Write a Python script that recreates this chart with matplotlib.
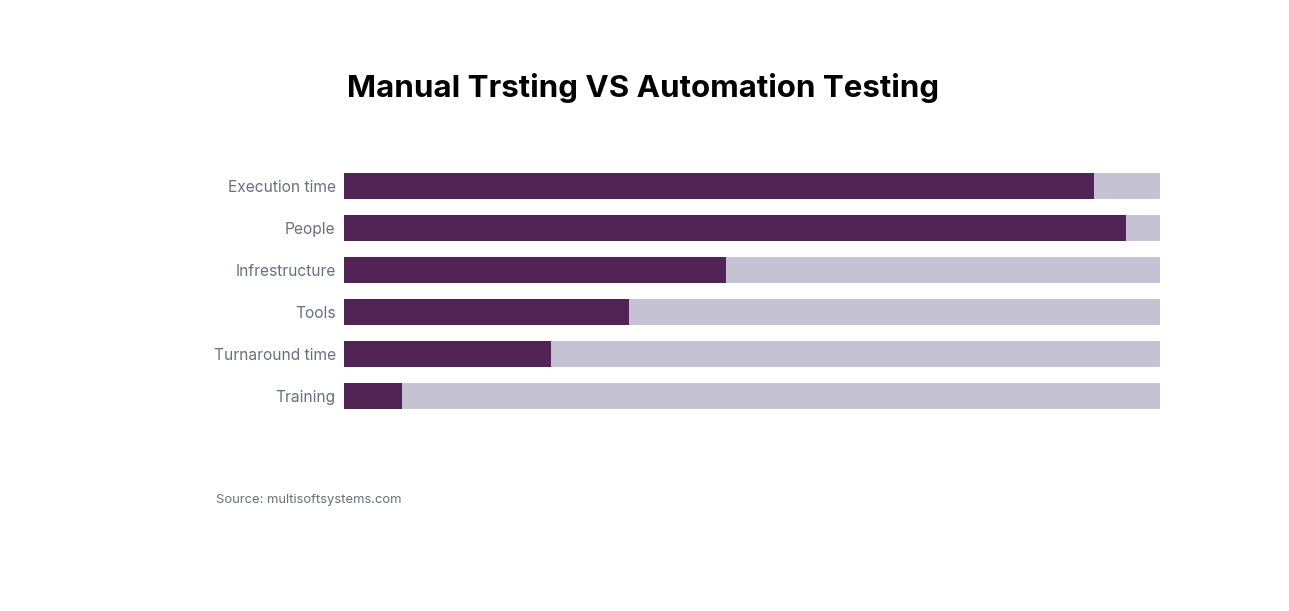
import matplotlib.pyplot as plt

categories = ["Execution time", "People", "Infrestructure", "Tools", "Turnaround time", "Training"]
values = [91.9, 95.8, 46.8, 34.9, 25.4, 7.1]
total = 100

W, H = 1289, 611
fig = plt.figure(figsize=(W / 100, H / 100), dpi=100)
ax = fig.add_axes([344 / W, 1 - 417 / H, (1160 - 344) / W, (417 - 165) / H])

y = list(range(len(categories)))
ax.barh(y, [total] * len(categories), height=0.62, color="#c5c3d3")
ax.barh(y, values, height=0.62, color="#522455")
ax.set_xlim(0, total)
ax.set_ylim(len(categories) - 0.5, -0.5)
ax.set_yticks(y)
ax.set_yticklabels(categories, fontfamily="Inter", fontsize=11.2, color="#6b6e80")
ax.tick_params(axis="y", length=0, pad=6)
ax.set_xticks([])
for s in ax.spines.values():
    s.set_visible(False)

fig.text(347 / W, 1 - 88 / H, "Manual Trsting VS Automation Testing", fontfamily="Inter",
         fontweight="bold", fontsize=22.5, va="center", ha="left", color="#000000")
fig.text(216 / W, 1 - 500 / H, "Source: multisoftsystems.com", fontfamily="Inter",
         fontsize=9.4, va="center", ha="left", color="#6b6e80")

fig.savefig("out.png", dpi=100)
